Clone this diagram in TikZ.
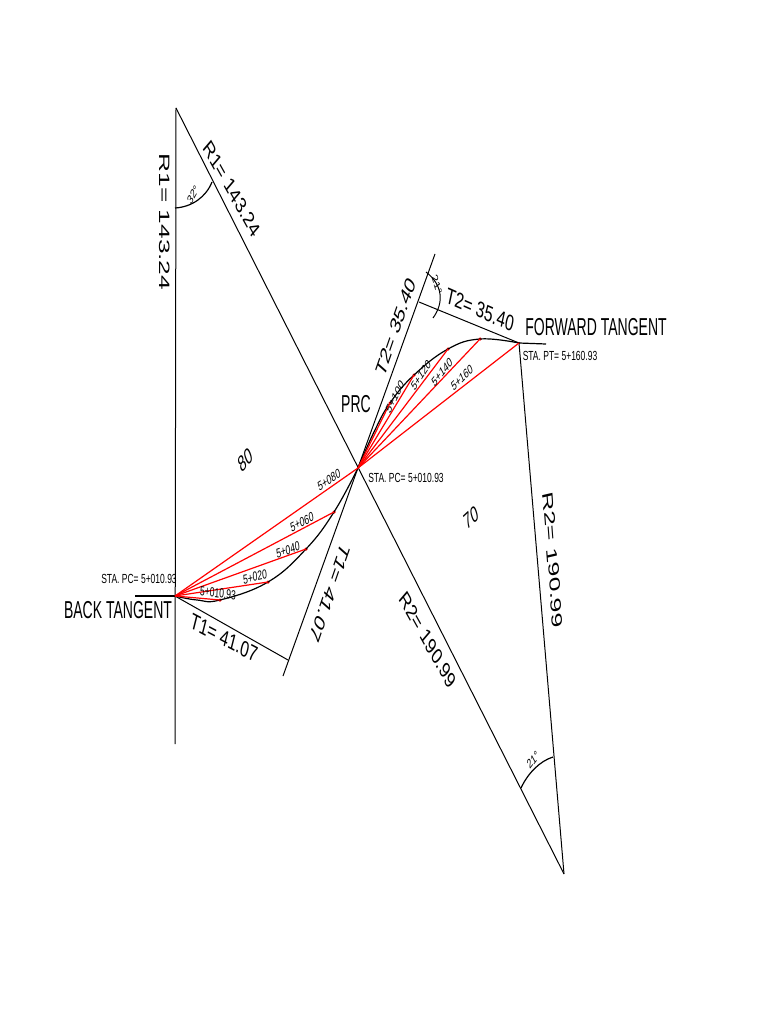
\documentclass[tikz,border=0pt]{standalone}
\usepackage{fontspec}
\setmainfont{Liberation Sans}
\tikzset{
  line/.style={black,line width=1pt},
  curve/.style={black,line width=1.2pt},
  chord/.style={red,line width=1.2pt},
  stapoint/.style={circle,fill=red,inner sep=0pt,minimum size=3.5pt},
  biglabel/.style={inner sep=0pt,font=\fontsize{15}{15}\selectfont,yscale=1.6,transform shape},
  tallabel/.style={inner sep=0pt,font=\fontsize{15}{15}\selectfont,yscale=1.75,transform shape},
  difflabel/.style={inner sep=0pt,font=\fontsize{15.5}{16}\selectfont,yscale=1.45,transform shape},
  midlabel/.style={inner sep=0pt,font=\fontsize{14}{14}\selectfont,yscale=1.75,transform shape},
  smalllabel/.style={inner sep=0pt,font=\fontsize{8.5}{9}\selectfont,yscale=1.55,transform shape},
}

\begin{document}
\begin{tikzpicture}[x=1pt,y=-1pt]
  \useasboundingbox (0,0) rectangle (768,1024);
  % main points
  \coordinate (topcenter) at (176,108);
  \coordinate (botend) at (175,744);
  \coordinate (lowcenter) at (564,874);
  \coordinate (backend) at (135,596);
  \coordinate (forwardend) at (546,344);
  \coordinate (pivend1) at (283,676);
  \coordinate (pivend2) at (435,254);
  \coordinate (vertex1) at (288,660);
  \coordinate (vertex2) at (419,302);
  \node[stapoint,minimum size=2pt] (pc) at (175,596) {};
  \node[stapoint,minimum size=2pt] (prc) at (358,468) {};
  \node[stapoint,minimum size=2pt] (pt) at (519,343) {};
  \node[stapoint] (sta010) at (220,600) {};
  \node[stapoint] (sta020) at (268,582) {};
  \node[stapoint] (sta040) at (306,549) {};
  \node[stapoint] (sta060) at (334,512) {};
  \node[stapoint] (sta100) at (390,403) {};
  \node[stapoint] (sta120) at (414,375) {};
  \node[stapoint] (sta140) at (448,349) {};
  \node[stapoint] (sta160) at (480,339) {};

  % tangents and radii
  \draw[line] (topcenter) -- (botend);
  \draw[line] (topcenter) -- (lowcenter);
  \draw[line] (lowcenter) -- (pt.center);
  \draw[line] (pivend1) -- (pivend2);
  \draw[line] (pc.center) -- (vertex1);
  \draw[line] (vertex2) -- (pt.center);
  \draw[curve] (backend) -- (pc.center);
  \draw[curve] (pt.center) -- (forwardend);

  % curves
  \draw[curve] plot[smooth,tension=0.7] coordinates {(pc.center) (197,600) (sta010.center) (sta020.center) (sta040.center) (sta060.center) (prc.center)};
  \draw[curve] plot[smooth,tension=0.7] coordinates {(prc.center) (374,432) (sta100.center) (sta120.center) (sta140.center) (sta160.center) (pt.center)};

  % chords
  \draw[chord] (pc.center) -- (sta010.center);
  \draw[chord] (pc.center) -- (sta020.center);
  \draw[chord] (pc.center) -- (sta040.center);
  \draw[chord] (pc.center) -- (sta060.center);
  \draw[chord] (pc.center) -- (prc.center);
  \draw[chord] (prc.center) -- (sta100.center);
  \draw[chord] (prc.center) -- (sta120.center);
  \draw[chord] (prc.center) -- (sta140.center);
  \draw[chord] (prc.center) -- (sta160.center);
  \draw[chord] (prc.center) -- (pt.center);

  % angle arcs
  \coordinate (arc1a) at (175,208);
  \coordinate (arc1b) at (212,182);
  \coordinate (arc2a) at (521,788);
  \coordinate (arc2b) at (553,757);
  \coordinate (arc3a) at (426,272);
  \coordinate (arc3b) at (433,318);
  \draw[curve] (arc1a) .. controls (192,207) and (206,197) .. (arc1b);
  \draw[curve] (arc2a) .. controls (528,773) and (540,761) .. (arc2b);
  \draw[line] (arc3a) .. controls (443,285) and (444,303) .. (arc3b);

  % labels
  \node[tallabel,rotate=-90] (r1left) at (165,222) {R1= 143.24};
  \node[difflabel,rotate=-51] (r1diag) at (232,189) {R1= 143.24};
  \node[tallabel,rotate=-82.5] (r2right) at (553,560) {R2= 190.99};
  \node[difflabel,rotate=-51] (r2diag) at (428,640) {R2= 190.99};
  \node[biglabel,rotate=61] (t2left) at (396,327) {T2= 35.40};
  \node[difflabel,rotate=-17] (t2right) at (480,310) {T2= 35.40};
  \node[difflabel,rotate=-20] (t1low) at (224,638) {T1= 41.07};
  \node[biglabel,rotate=-119] (t1right) at (330,593) {T1= 41.07};
  \node[midlabel] (back) at (118,610) {BACK TANGENT};
  \node[midlabel] (forward) at (596,327) {FORWARD TANGENT};
  \node[midlabel] (prclabel) at (356,404) {PRC};
  \node[midlabel,font=\fontsize{13}{13}\selectfont,rotate=34] (area80) at (245,460) {80};
  \node[midlabel,font=\fontsize{13}{13}\selectfont,rotate=28] (area70) at (471,518) {70};
  \node[smalllabel] (stapc1) at (139,579) {STA. PC= 5+010.93};
  \node[smalllabel] (stapc2) at (406,478) {STA. PC= 5+010.93};
  \node[smalllabel] (stapt) at (560,356) {STA. PT= 5+160.93};
  \node[smalllabel,rotate=-5] (lab010) at (218,593) {5+010.93};
  \node[smalllabel,rotate=8] (lab020) at (255,577) {5+020};
  \node[smalllabel,rotate=13] (lab040) at (288,550) {5+040};
  \node[smalllabel,rotate=19] (lab060) at (302,522) {5+060};
  \node[smalllabel,rotate=24] (lab080) at (329,480) {5+080};
  \node[smalllabel,rotate=52] (lab100) at (395,397) {5+100};
  \node[smalllabel,rotate=45] (lab120) at (421,375) {5+120};
  \node[smalllabel,rotate=39] (lab140) at (442,372) {5+140};
  \node[smalllabel,rotate=33] (lab160) at (462,378) {5+160};
  \node[smalllabel,rotate=50] (ang32) at (193,195) {32°};
  \node[smalllabel,rotate=40] (ang21low) at (533,760) {21°};
  \node[smalllabel,rotate=-65] (ang21up) at (437,285) {21°};
\end{tikzpicture}
\end{document}
